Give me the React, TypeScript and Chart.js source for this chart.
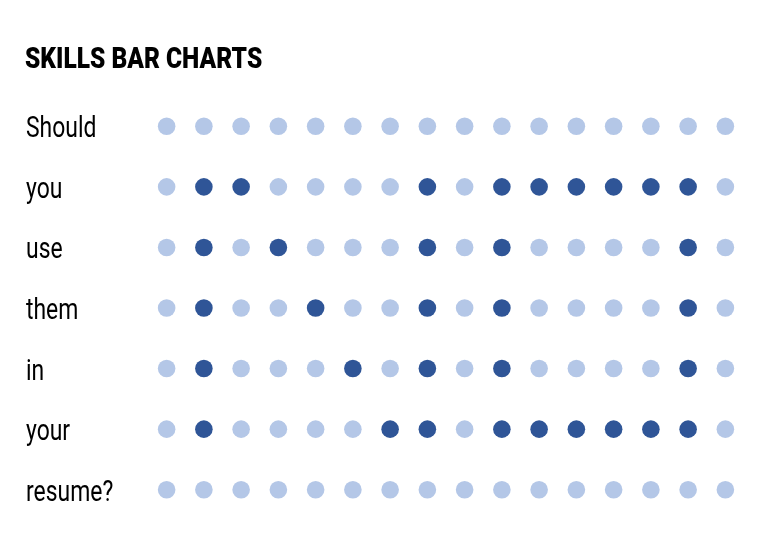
import React, { useRef, useEffect } from 'react';
import { Chart, registerables } from 'chart.js';

Chart.register(...registerables);

// Row labels, top to bottom
const rowLabels = ['Should', 'you', 'use', 'them', 'in', 'your', 'resume?'];
// Column positions of the dots
const columns = [0, 1, 2, 3, 4, 5, 6, 7, 8, 9, 10, 11, 12, 13, 14, 15];
// Dark (highlighted) columns per row, spelling "NO"
const darkRow0: number[] = [];
const darkRow1 = [1, 2, 7, 9, 10, 11, 12, 13, 14];
const darkRow2 = [1, 3, 7, 9, 14];
const darkRow3 = [1, 4, 7, 9, 14];
const darkRow4 = [1, 5, 7, 9, 14];
const darkRow5 = [1, 6, 7, 9, 10, 11, 12, 13, 14];
const darkRow6: number[] = [];
const darkByRow = [darkRow0, darkRow1, darkRow2, darkRow3, darkRow4, darkRow5, darkRow6];

const titleText = 'SKILLS BAR CHARTS';

const LIGHT = '#B4C7E7';
const DARK = '#2F5597';
const FONT = "Roboto, 'DejaVu Sans Condensed', sans-serif";

// Draws title and row labels in a condensed look (no narrow font is installed)
const condensedText = {
    id: 'condensedText',
    afterDraw(chart: any) {
        const { ctx } = chart;
        const y = chart.scales.y;
        ctx.save();
        ctx.fillStyle = '#000';
        ctx.textAlign = 'left';
        ctx.textBaseline = 'alphabetic';

        ctx.font = `900 29px ${FONT}`;
        ctx.save();
        ctx.translate(25, 68);
        ctx.scale(0.845, 1);
        ctx.fillText(titleText, 0, 0);
        ctx.restore();

        ctx.font = `29px ${FONT}`;
        rowLabels.forEach((label, i) => {
            ctx.save();
            ctx.translate(26, y.getPixelForValue(i) + 11);
            ctx.scale(0.79, 1);
            ctx.fillText(label, 0, 0);
            ctx.restore();
        });
        ctx.restore();
    },
};

const App: React.FC = () => {
    const chartRef = useRef<HTMLCanvasElement>(null);
    const chartInstance = useRef<Chart | null>(null);

    useEffect(() => {
        document.body.style.margin = '0';
        if (!chartRef.current) return;
        const ctx = chartRef.current.getContext('2d');
        if (!ctx) return;

        const lightPoints: { x: number; y: number }[] = [];
        const darkPoints: { x: number; y: number }[] = [];
        rowLabels.forEach((_, r) => {
            columns.forEach((c) => {
                if (darkByRow[r].includes(c)) darkPoints.push({ x: c, y: r });
                else lightPoints.push({ x: c, y: r });
            });
        });

        chartInstance.current = new Chart(ctx, {
            type: 'scatter',
            data: {
                datasets: [
                    {
                        label: 'light',
                        data: lightPoints,
                        backgroundColor: LIGHT,
                        borderWidth: 0,
                        pointRadius: 8.8,
                    },
                    {
                        label: 'dark',
                        data: darkPoints,
                        backgroundColor: DARK,
                        borderWidth: 0,
                        pointRadius: 8.8,
                    },
                ],
            },
            options: {
                animation: false,
                responsive: true,
                maintainAspectRatio: false,
                layout: { padding: { left: 148, right: 33, top: 96, bottom: 30 } },
                scales: {
                    x: {
                        type: 'linear',
                        min: -0.5,
                        max: 15.5,
                        display: false,
                    },
                    y: {
                        type: 'linear',
                        min: -0.5,
                        max: 6.5,
                        reverse: true,
                        display: false,
                    },
                },
                plugins: {
                    legend: { display: false },
                    tooltip: { enabled: false },
                },
            },
            plugins: [condensedText],
        });

        return () => {
            if (chartInstance.current) {
                chartInstance.current.destroy();
            }
        };
    }, []);

    return (
        <div style={{ position: 'absolute', left: 0, top: 0, width: 777, height: 550, background: '#fff' }}>
            <canvas ref={chartRef}></canvas>
        </div>
    );
};

export default App;
